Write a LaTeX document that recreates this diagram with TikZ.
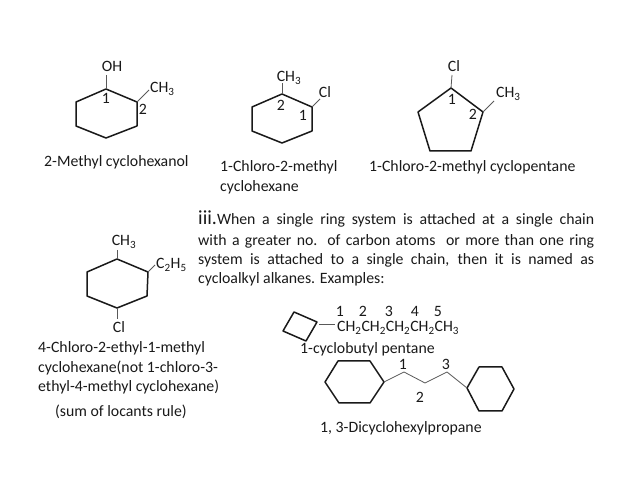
\documentclass[tikz,border=0pt]{standalone}
\usepackage{fontspec}
\setmainfont{Carlito}
\newcommand{\chthree}{CH\textsubscript{3}}
\newcommand{\fullline}[1]{\makebox[396pt][s]{#1}}
\tikzset{
  ring/.style={draw=black!90,line width=1.5pt,line join=round},
  bond/.style={draw=black!65,line width=0.8pt},
  txt/.style={inner sep=0pt,text=black!90,font=\fontsize{15.8}{19.8}\selectfont},
  tag/.style={txt,anchor=base west},
  num/.style={txt,anchor=center},
}
\begin{document}
\begin{tikzpicture}[x=1pt,y=-1pt]
    \useasboundingbox (0,0) rectangle (638,478);
    % first row
    \draw[ring] (106,89) -- (137,102) -- (137,126) -- (106,138) -- (76,126) -- (76,102) -- cycle;
    \node[num] (oh) at (112,66) {OH};
    \node[tag] (mea) at (150,93) {\chthree};
    \coordinate (oha) at (106,75);
    \coordinate (mea1) at (149,90);
    \draw[bond] (106,89) -- (oha);
    \draw[bond] (137,102) -- (mea1);
    \node[num] (a1) at (106,98) {1};
    \node[num] (a2) at (143,109) {2};
    \node[tag] (capa) at (44,167) {2-Methyl cyclohexanol};

    \draw[ring] (282,94) -- (312,107) -- (312,131) -- (282,143) -- (252,131) -- (252,107) -- cycle;
    \node[num] (meb) at (289,78) {\chthree};
    \node[num] (clb) at (325,92) {Cl};
    \coordinate (meb1) at (282,83);
    \coordinate (clb1) at (320,99);
    \draw[bond] (282,94) -- (meb1);
    \draw[bond] (312,107) -- (clb1);
    \node[num] (b2) at (281,105) {2};
    \node[num] (b1) at (303,115) {1};
    \node[tag] (capb) at (220,172) {1-Chloro-2-methyl};
    \node[tag] (capb2) at (220,192) {cyclohexane};

    \draw[ring] (451,88) -- (483,112) -- (471,151) -- (430,151) -- (418,112) -- cycle;
    \node[num] (clc) at (454,66) {Cl};
    \node[tag] (mec) at (496,98) {\chthree};
    \coordinate (clc1) at (452,75);
    \coordinate (mec1) at (494,101);
    \draw[bond] (451,88) -- (clc1);
    \draw[bond] (483,112) -- (mec1);
    \node[num] (c1) at (452,99) {1};
    \node[num] (c2) at (473,114) {2};
    \node[tag] (capc) at (369,172) {1-Chloro-2-methyl cyclopentane};

    % paragraph
    \node[tag] (para1) at (198,225) {\fullline{{\fontsize{20}{20}\selectfont iii.}When a single ring system is attached at a single chain}};
    \node[tag] (para2) at (198,246) {\fullline{with a greater no. of carbon atoms\ \ or more than one ring}};
    \node[tag] (para3) at (198,265) {\fullline{system is attached to a single chain, then it is named as}};
    \node[tag] (para4) at (198,284) {cycloalkyl alkanes. Examples:};

    % second row, left
    \draw[ring] (117,259) -- (148,272) -- (147,296) -- (117,308) -- (87,296) -- (87,272) -- cycle;
    \node[num] (med) at (124,242) {\chthree};
    \node[tag] (etd) at (156,269) {C\textsubscript{2}H\textsubscript{5}};
    \node[num] (cld) at (119,327) {Cl};
    \coordinate (med1) at (117,250);
    \coordinate (etd1) at (155,265);
    \coordinate (cld1) at (117,319);
    \draw[bond] (117,259) -- (med1);
    \draw[bond] (148,272) -- (etd1);
    \draw[bond] (117,308) -- (cld1);
    \node[tag] (capd) at (38,353) {4-Chloro-2-ethyl-1-methyl};
    \node[tag] (capd2) at (38,373) {cyclohexane(not 1-chloro-3-};
    \node[tag] (capd3) at (38,392) {ethyl-4-methyl cyclohexane)};
    \node[tag] (capd4) at (55,417) {(sum of locants rule)};

    % second row, right
    \draw[ring] (294,312) -- (317,322) -- (306,341) -- (283,331) -- cycle;
    \coordinate (cb1) at (319,324);
    \coordinate (cb2) at (335,324);
    \draw[bond] (cb1) -- (cb2);
    \node[tag] (chain) at (337,332) {CH\textsubscript{2}CH\textsubscript{2}CH\textsubscript{2}CH\textsubscript{2}CH\textsubscript{3}};
    \foreach \n/\x in {1/340,2/363,3/389,4/415,5/438}
        \node[num] (p\n) at (\x,311) {\n};
    \node[tag] (cape) at (300,354) {1-cyclobutyl pentane};

    \draw[ring] (338,361) -- (370,361) -- (384,382) -- (370,403) -- (339,403) -- (325,382) -- cycle;
    \draw[ring] (467,388) -- (479,367) -- (502,367) -- (514,389) -- (502,411) -- (479,411) -- cycle;
    \draw[bond] (384,382) -- (404,372) -- (425,383) -- (447,372) -- (467,388);
    \node[num] (f1) at (403,364) {1};
    \node[num] (f3) at (446,364) {3};
    \node[num] (f2) at (420,397) {2};
    \node[tag] (capf) at (320,433) {1, 3-Dicyclohexylpropane};
\end{tikzpicture}
\end{document}
